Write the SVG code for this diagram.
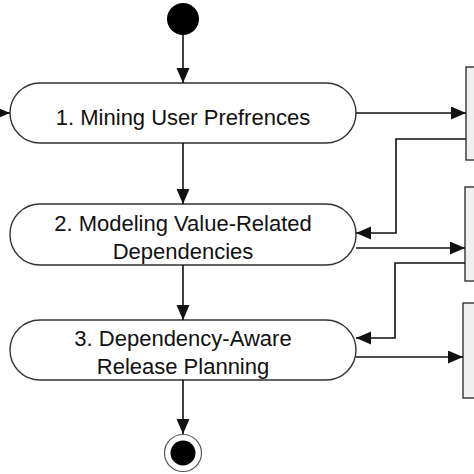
<svg xmlns="http://www.w3.org/2000/svg" width="474" height="474" viewBox="0 0 474 474">
<style>
.act{fill:#ffffff;stroke:#333333;stroke-width:1.4}
.side{fill:#f0f0f0;stroke:#333333;stroke-width:1.4}
.lbl{font-family:"Liberation Sans",Arial,sans-serif;font-size:22px;fill:#111111;text-anchor:middle}
.c{fill:none;stroke:#111111;stroke-width:1.6;marker-end:url(#ah)}
</style>
<defs>
<marker id="ah" markerUnits="userSpaceOnUse" markerWidth="16" markerHeight="14" refX="15" refY="6.5" orient="auto">
<path d="M0,0 L15,6.5 L0,13 z" fill="#111111"/>
</marker>
</defs>
<g id="start"><circle cx="183" cy="19" r="16" fill="#000000"/></g>
<g id="act1"><rect class="act" x="10" y="83" width="346" height="60" rx="30" ry="30"/><text class="lbl" x="183" y="125">1. Mining User Prefrences</text></g>
<g id="act2"><rect class="act" x="10" y="204" width="346" height="61" rx="30" ry="30"/><text class="lbl" x="183" y="231">2. Modeling Value-Related</text><text class="lbl" x="183" y="259">Dependencies</text></g>
<g id="act3"><rect class="act" x="10" y="320" width="346" height="60" rx="30" ry="30"/><text class="lbl" x="183" y="346">3. Dependency-Aware</text><text class="lbl" x="183" y="374">Release Planning</text></g>
<g id="side1"><rect class="side" x="466" y="67" width="20" height="93"/></g>
<g id="side2"><rect class="side" x="465" y="187" width="20" height="94"/></g>
<g id="side3"><rect class="side" x="463" y="303" width="22" height="95"/></g>
<g id="end"><circle cx="183" cy="453" r="18.5" fill="#ffffff" stroke="#555555" stroke-width="1.2"/><circle cx="183" cy="453" r="12.5" fill="#000000"/></g>
<g id="connectors">
<path class="c" d="M183,35 L183,83"/>
<path class="c" d="M-2,113 L10,113"/>
<path class="c" d="M183,143 L183,204"/>
<path class="c" d="M183,265 L183,320"/>
<path class="c" d="M183,380 L183,434"/>
<path class="c" d="M356,113 L466,113"/>
<path class="c" d="M466,139 L396,139 L396,233 L356,233"/>
<path class="c" d="M356,248 L465,248"/>
<path class="c" d="M465,263 L395,263 L395,338 L356,338"/>
<path class="c" d="M356,357 L463,357"/>
</g>
</svg>
